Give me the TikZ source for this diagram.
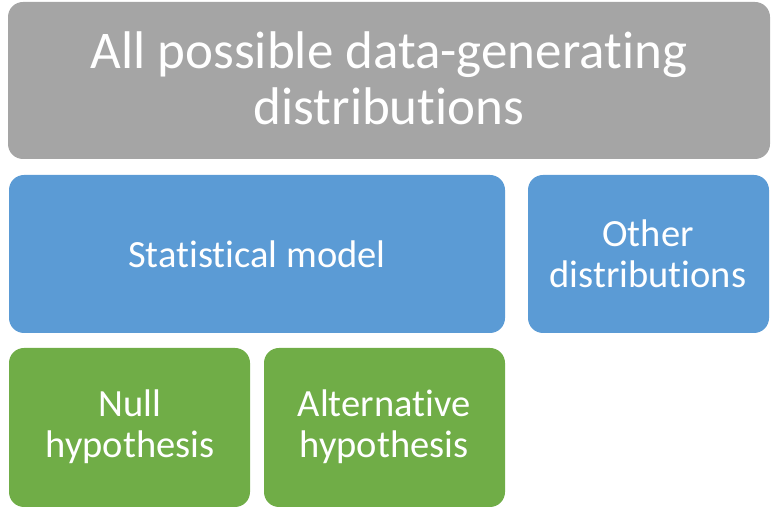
\documentclass[tikz,border=0pt]{standalone}
\usepackage{fontspec}
\setmainfont{Carlito}[Ligatures=NoCommon]
\definecolor{boxgray}{HTML}{A5A5A5}
\definecolor{boxblue}{HTML}{5B9BD5}
\definecolor{boxgreen}{HTML}{70AD47}
\begin{document}
\begin{tikzpicture}[x=1pt,y=-1pt,
  card/.style={rounded corners=15pt,draw=none},
  big/.style={text=white,align=center,font=\fontsize{53}{56}\selectfont},
  mid/.style={text=white,align=center,font=\fontsize{38.5}{41}\selectfont}]
\useasboundingbox (0,0) rectangle (780,510);
\fill[card,boxgray] (8,2) rectangle (770,159);
\node[big] (all) at (389,78) {All possible data-generating\\distributions};
\fill[card,boxblue] (9,175) rectangle (505,333);
\node[mid] (stat) at (257,254) {Statistical model};
\fill[card,boxblue] (528,175) rectangle (769,333);
\node[mid] (other) at (648,254) {Other\\distributions};
\fill[card,boxgreen] (9,348) rectangle (250,507);
\node[mid] (null) at (130,427) {Null\\hypothesis};
\fill[card,boxgreen] (264,348) rectangle (505,507);
\node[mid] (alt) at (384,427) {Alternative\\hypothesis};
\end{tikzpicture}
\end{document}
